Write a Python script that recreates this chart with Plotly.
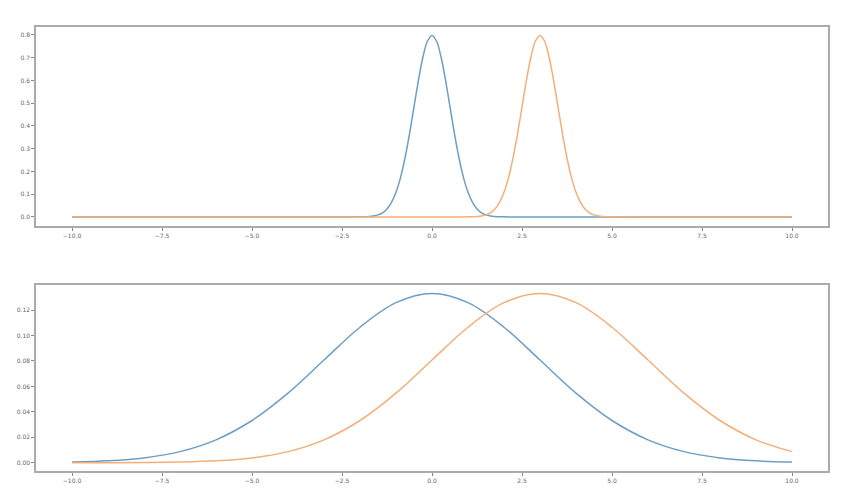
import plotly.graph_objects as go
from plotly.subplots import make_subplots

# ---- data ----
top_x = [-10.0, -7.5, -5.0, -2.5,
         -2.0, -1.875, -1.75, -1.625, -1.5, -1.375, -1.25, -1.125, -1.0, -0.875, -0.75, -0.625,
         -0.5, -0.375, -0.25, -0.125, 0.0, 0.125, 0.25, 0.375, 0.5, 0.625, 0.75, 0.875,
         1.0, 1.125, 1.25, 1.375, 1.5, 1.625, 1.75, 1.875, 2.0, 2.125, 2.25, 2.375,
         2.5, 2.625, 2.75, 2.875, 3.0, 3.125, 3.25, 3.375, 3.5, 3.625, 3.75, 3.875,
         4.0, 4.125, 4.25, 4.375, 4.5, 4.625, 4.75, 4.875, 5.0,
         5.5, 7.5, 10.0]
top_blue = [0, 0, 0, 0,
            0.0003, 0.0007, 0.0018, 0.0041, 0.0089, 0.0182, 0.035, 0.0635, 0.108, 0.1726, 0.259, 0.3653,
            0.484, 0.6023, 0.704, 0.7734, 0.798, 0.7734, 0.704, 0.6023, 0.484, 0.3653, 0.259, 0.1726,
            0.108, 0.0635, 0.035, 0.0182, 0.0089, 0.0041, 0.0018, 0.0007, 0.0003, 0, 0, 0,
            0, 0, 0, 0, 0, 0, 0, 0, 0, 0, 0, 0,
            0, 0, 0, 0, 0, 0, 0, 0, 0,
            0, 0, 0]
top_orange = [0, 0, 0, 0,
              0, 0, 0, 0, 0, 0, 0, 0, 0, 0, 0, 0,
              0, 0, 0, 0, 0, 0, 0, 0, 0, 0, 0, 0,
              0.0003, 0.0007, 0.0018, 0.0041, 0.0089, 0.0182, 0.035, 0.0635, 0.108, 0.1726, 0.259, 0.3653,
              0.484, 0.6023, 0.704, 0.7734, 0.798, 0.7734, 0.704, 0.6023, 0.484, 0.3653, 0.259, 0.1726,
              0.108, 0.0635, 0.035, 0.0182, 0.0089, 0.0041, 0.0018, 0.0007, 0.0003,
              0, 0, 0]

bot_x = [-10, -9, -8, -7, -6, -5, -4, -3, -2, -1, 0, 1, 2, 3, 4, 5, 6, 7, 8, 9, 10]
bot_blue = [0.00051, 0.00148, 0.0038, 0.00874, 0.018, 0.0332, 0.0547, 0.0807, 0.1065, 0.1258, 0.133,
            0.1258, 0.1065, 0.0807, 0.0547, 0.0332, 0.018, 0.00874, 0.0038, 0.00148, 0.00051]
bot_orange = [0.00001, 0.00004, 0.00016, 0.00051, 0.00148, 0.0038, 0.00874, 0.018, 0.0332, 0.0547, 0.0807,
              0.1065, 0.1258, 0.133, 0.1258, 0.1065, 0.0807, 0.0547, 0.0332, 0.018, 0.00874]

x_ticks = [-10.0, -7.5, -5.0, -2.5, 0.0, 2.5, 5.0, 7.5, 10.0]
x_tick_labels = ["\u221210.0", "\u22127.5", "\u22125.0", "\u22122.5", "0.0", "2.5", "5.0", "7.5", "10.0"]
top_y_ticks = [0.0, 0.1, 0.2, 0.3, 0.4, 0.5, 0.6, 0.7, 0.8]
top_y_labels = ["0.0", "0.1", "0.2", "0.3", "0.4", "0.5", "0.6", "0.7", "0.8"]
bot_y_ticks = [0.0, 0.02, 0.04, 0.06, 0.08, 0.10, 0.12]
bot_y_labels = ["0.00", "0.02", "0.04", "0.06", "0.08", "0.10", "0.12"]

BLUE = "#6d9ec6"
ORANGE = "#f5ae78"

fig = make_subplots(rows=2, cols=1)
fig.add_trace(go.Scatter(x=top_x, y=top_blue, mode="lines", line=dict(color=BLUE, width=1.5, shape="spline")), row=1, col=1)
fig.add_trace(go.Scatter(x=top_x, y=top_orange, mode="lines", line=dict(color=ORANGE, width=1.5, shape="spline")), row=1, col=1)
fig.add_trace(go.Scatter(x=bot_x, y=bot_blue, mode="lines", line=dict(color=BLUE, width=1.5, shape="spline")), row=2, col=1)
fig.add_trace(go.Scatter(x=bot_x, y=bot_orange, mode="lines", line=dict(color=ORANGE, width=1.5, shape="spline")), row=2, col=1)

axis_common = dict(showgrid=False, zeroline=False, showline=True, mirror=True, automargin=False,
                   linecolor="#ababab", linewidth=1.5, ticks="outside", ticklen=3,
                   tickcolor="#888", tickwidth=0.8, tickfont=dict(size=6, color="#666", family="DejaVu Sans"))

fig.update_layout(
    width=865, height=497, showlegend=False,
    paper_bgcolor="white", plot_bgcolor="white",
    margin=dict(l=36, r=37, t=27, b=26, autoexpand=False),
    xaxis=dict(domain=[0, 1], range=[-11, 11], tickvals=x_ticks, ticktext=x_tick_labels, **axis_common),
    yaxis=dict(domain=[0.5518, 1], range=[-0.04, 0.835], tickvals=top_y_ticks, ticktext=top_y_labels, **axis_common),
    xaxis2=dict(domain=[0, 1], range=[-11, 11], tickvals=x_ticks, ticktext=x_tick_labels, **axis_common),
    yaxis2=dict(domain=[0, 0.4189], range=[-0.0065, 0.1397], tickvals=bot_y_ticks, ticktext=bot_y_labels, **axis_common),
)

fig.write_html("out.html", config={"displayModeBar": False},
               post_script="document.body.style.margin='0';document.body.style.overflow='hidden';")
